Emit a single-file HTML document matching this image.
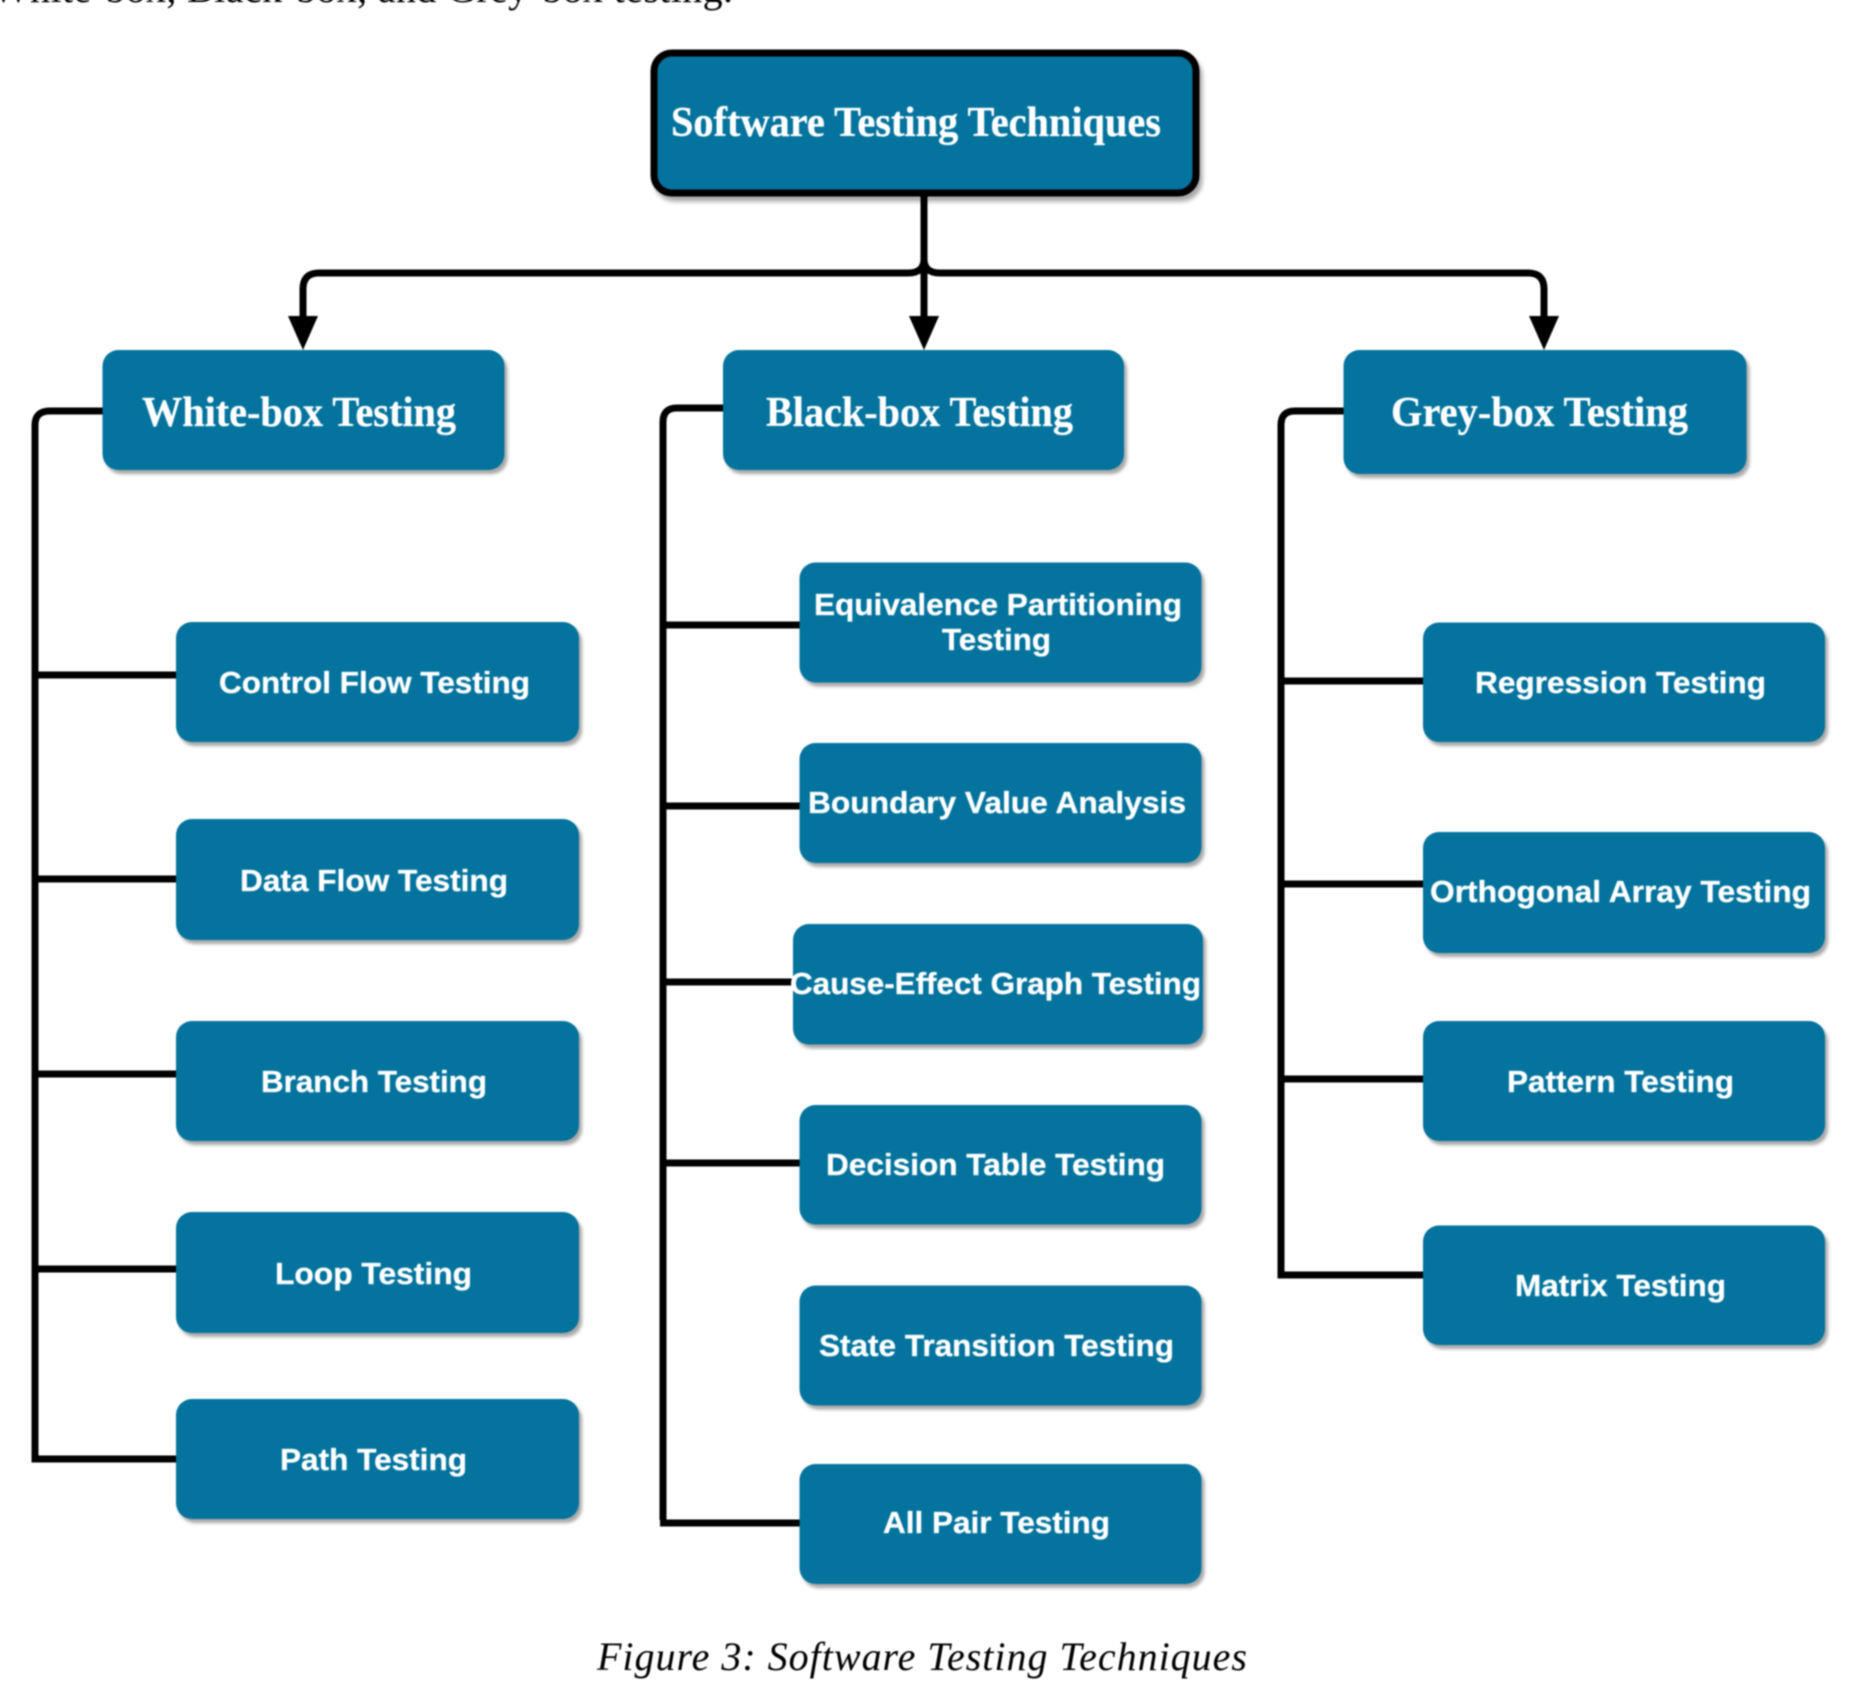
<!DOCTYPE html>
<html><head><meta charset="utf-8"><style>
html,body{margin:0;padding:0;background:#fff;width:1854px;height:1684px;overflow:hidden}
svg{display:block;position:absolute;left:0;top:0}
.b{fill:#04739d;filter:drop-shadow(3px 4px 1.5px #a8a8a8)}
.l{stroke:#000;stroke-width:7;fill:none}
.s{font:bold 30.5px "Liberation Sans",sans-serif;fill:#fff;stroke:#fff;stroke-width:.3}
.h{font:bold 42px "Liberation Serif",serif;fill:#fff;stroke:#fff;stroke-width:.3}
</style></head><body>
<svg width="1854" height="1684" viewBox="0 0 1854 1684" xmlns="http://www.w3.org/2000/svg">
<g style="filter:blur(.7px)">
<text x="-8" y="2" font-family="Liberation Serif,serif" font-size="40" textLength="741" lengthAdjust="spacing">White-box, Black-box, and Grey-box testing.</text>
<text x="597" y="1670" font-family="Liberation Serif,serif" font-style="italic" font-size="40" textLength="650" lengthAdjust="spacing">Figure 3: Software Testing Techniques</text>

<path class="l" d="M303 320V289Q303 273 319 273H908Q924 273 924 259Q924 273 940 273H1528Q1544 273 1544 289V320"/>
<path d="M288 316H318L303 350ZM909 316H939L924 350ZM1529 316H1559L1544 350Z"/>
<path class="l" d="M103 411H50Q35 411 35 425V1459H176M35 675H176M35 879H176M35 1074H176M35 1269H176"/>
<path class="l" d="M723 408H677Q663 408 663 422V1520"/>
<path class="l" d="M660 1523H800M660 625H800M660 806H800M660 982H793M660 1163H800" />
<path class="l" d="M1344 411H1295Q1281 411 1281 425V1275H1423M1281 681H1423M1281 884H1423M1281 1079H1423"/>

<rect x="654" y="53" width="542" height="140" rx="18" fill="#04739d" stroke="#000" stroke-width="7" style="filter:drop-shadow(3px 5px 2px #a8a8a8)"/>
<path class="l" d="M924 190V342"/>
<text class="h" x="671" y="136" textLength="490" lengthAdjust="spacingAndGlyphs">Software Testing Techniques</text>

<rect class="b" x="102.500" y="350" width="402" height="120" rx="16"/>
<rect class="b" x="723" y="350" width="401" height="120" rx="16"/>
<rect class="b" x="1343.500" y="350" width="403" height="124" rx="16"/>
<text class="h" x="142" y="426" textLength="314" lengthAdjust="spacingAndGlyphs">White-box Testing</text>
<text class="h" x="766" y="426" textLength="307" lengthAdjust="spacingAndGlyphs">Black-box Testing</text>
<text class="h" x="1391" y="426" textLength="297" lengthAdjust="spacingAndGlyphs">Grey-box Testing</text>

<rect class="b" x="176" y="622" width="403" height="120" rx="16"/>
<rect class="b" x="176" y="819" width="403" height="121" rx="16"/>
<rect class="b" x="176" y="1021" width="403" height="120" rx="16"/>
<rect class="b" x="176" y="1212" width="403" height="121" rx="16"/>
<rect class="b" x="176" y="1399" width="403" height="120" rx="16"/>
<text class="s" x="219" y="693" textLength="311" lengthAdjust="spacingAndGlyphs">Control Flow Testing</text>
<text class="s" x="240" y="891" textLength="268" lengthAdjust="spacingAndGlyphs">Data Flow Testing</text>
<text class="s" x="261" y="1092" textLength="226" lengthAdjust="spacingAndGlyphs">Branch Testing</text>
<text class="s" x="275" y="1284" textLength="197" lengthAdjust="spacingAndGlyphs">Loop Testing</text>
<text class="s" x="280" y="1470" textLength="187" lengthAdjust="spacingAndGlyphs">Path Testing</text>

<rect class="b" x="799.500" y="562.500" width="402" height="120" rx="16"/>
<rect class="b" x="799.500" y="743" width="402" height="120" rx="16"/>
<rect class="b" x="793" y="924" width="410" height="120.500" rx="16"/>
<rect class="b" x="799.500" y="1105" width="402" height="119.500" rx="16"/>
<rect class="b" x="799.500" y="1285.500" width="402" height="120" rx="16"/>
<rect class="b" x="799.500" y="1464" width="402" height="120" rx="16"/>
<text class="s" x="814" y="615" textLength="368" lengthAdjust="spacingAndGlyphs">Equivalence Partitioning</text>
<text class="s" x="942" y="650" textLength="109" lengthAdjust="spacingAndGlyphs">Testing</text>
<text class="s" x="808" y="813" textLength="378" lengthAdjust="spacingAndGlyphs">Boundary Value Analysis</text>
<text class="s" x="790" y="994" textLength="411" lengthAdjust="spacingAndGlyphs">Cause-Effect Graph Testing</text>
<text class="s" x="826" y="1175" textLength="339" lengthAdjust="spacingAndGlyphs">Decision Table Testing</text>
<text class="s" x="819" y="1356" textLength="355" lengthAdjust="spacingAndGlyphs">State Transition Testing</text>
<text class="s" x="883" y="1533" textLength="227" lengthAdjust="spacingAndGlyphs">All Pair Testing</text>

<rect class="b" x="1423" y="622.500" width="402" height="119.500" rx="16"/>
<rect class="b" x="1423" y="832" width="402" height="121" rx="16"/>
<rect class="b" x="1423" y="1021" width="402" height="120" rx="16"/>
<rect class="b" x="1423" y="1225.500" width="402" height="119.500" rx="16"/>
<text class="s" x="1475" y="693" textLength="291" lengthAdjust="spacingAndGlyphs">Regression Testing</text>
<text class="s" x="1430" y="902" textLength="381" lengthAdjust="spacingAndGlyphs">Orthogonal Array Testing</text>
<text class="s" x="1507" y="1092" textLength="227" lengthAdjust="spacingAndGlyphs">Pattern Testing</text>
<text class="s" x="1515" y="1296" textLength="211" lengthAdjust="spacingAndGlyphs">Matrix Testing</text>
</g>
</svg>
</body></html>
